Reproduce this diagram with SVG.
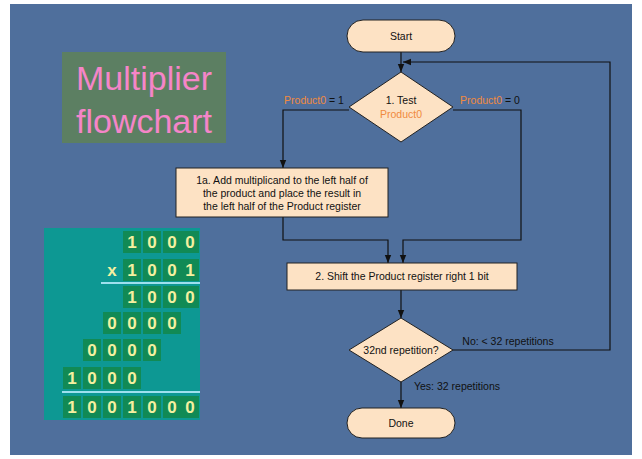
<svg xmlns="http://www.w3.org/2000/svg" width="642" height="459" viewBox="0 0 642 459">
<defs>
<marker id="ar" viewBox="0 0 10 10" refX="10" refY="5" markerWidth="7" markerHeight="7" orient="auto"><path d="M0,1 L10,5 L0,9 z" fill="#111"/></marker>
<style>
.n{fill:#fde2c4;stroke:#222;stroke-width:1}
.t{font-family:"Liberation Sans",Arial,sans-serif;font-size:10.5px;fill:#111;text-anchor:middle}
.o{fill:#f08a40}
.c{stroke:#111;stroke-width:1.2;fill:none}
.cell{fill:#118a55}
.d{font-family:"Liberation Sans",Arial,sans-serif;font-size:17px;font-weight:bold;fill:#f4f0a0;text-anchor:middle}
.ln{stroke:#9ee0ee;stroke-width:2}
</style>
</defs>
<rect width="642" height="459" fill="#fff"/>
<rect x="10" y="4" width="622" height="451" fill="#4f6f9c"/>
<g id="title"><rect x="62" y="52" width="164" height="91" fill="#5c7f62"/>
<text x="144" y="90" font-family="Liberation Sans,Arial,sans-serif" font-size="34" fill="#f585c8" text-anchor="middle">Multiplier</text>
<text x="144" y="133" font-family="Liberation Sans,Arial,sans-serif" font-size="34" fill="#f585c8" text-anchor="middle">flowchart</text></g>
<g id="mult">
<rect x="44" y="228" width="156" height="192" fill="#0d9893"/>
<g>
<rect class="cell" x="123" y="231" width="18" height="22"/><rect class="cell" x="143" y="231" width="18" height="22"/><rect class="cell" x="163" y="231" width="18" height="22"/><rect class="cell" x="181" y="231" width="18" height="22"/>
<rect class="cell" x="123" y="259" width="18" height="22"/><rect class="cell" x="143" y="259" width="18" height="22"/><rect class="cell" x="163" y="259" width="18" height="22"/><rect class="cell" x="181" y="259" width="18" height="22"/>
<rect class="cell" x="123" y="286" width="18" height="22"/><rect class="cell" x="143" y="286" width="18" height="22"/><rect class="cell" x="163" y="286" width="18" height="22"/><rect class="cell" x="181" y="286" width="18" height="22"/>
<rect class="cell" x="103" y="312" width="18" height="22"/><rect class="cell" x="123" y="312" width="18" height="22"/><rect class="cell" x="143" y="312" width="18" height="22"/><rect class="cell" x="163" y="312" width="18" height="22"/>
<rect class="cell" x="83" y="339" width="18" height="22"/><rect class="cell" x="103" y="339" width="18" height="22"/><rect class="cell" x="123" y="339" width="18" height="22"/><rect class="cell" x="143" y="339" width="18" height="22"/>
<rect class="cell" x="63" y="367" width="18" height="22"/><rect class="cell" x="83" y="367" width="18" height="22"/><rect class="cell" x="103" y="367" width="18" height="22"/><rect class="cell" x="123" y="367" width="18" height="22"/>
<rect class="cell" x="63" y="396" width="18" height="22"/><rect class="cell" x="83" y="396" width="18" height="22"/><rect class="cell" x="103" y="396" width="18" height="22"/><rect class="cell" x="123" y="396" width="18" height="22"/><rect class="cell" x="143" y="396" width="18" height="22"/><rect class="cell" x="163" y="396" width="18" height="22"/><rect class="cell" x="181" y="396" width="18" height="22"/>
</g>
<text class="d" y="248"><tspan x="132">1</tspan><tspan x="152">0</tspan><tspan x="172">0</tspan><tspan x="190">0</tspan></text>
<text class="d" y="276"><tspan x="112">x</tspan><tspan x="132">1</tspan><tspan x="152">0</tspan><tspan x="172">0</tspan><tspan x="190">1</tspan></text>
<line class="ln" x1="101" y1="283" x2="200" y2="283"/>
<text class="d" y="303"><tspan x="132">1</tspan><tspan x="152">0</tspan><tspan x="172">0</tspan><tspan x="190">0</tspan></text>
<text class="d" y="329"><tspan x="112">0</tspan><tspan x="132">0</tspan><tspan x="152">0</tspan><tspan x="172">0</tspan></text>
<text class="d" y="356"><tspan x="92">0</tspan><tspan x="112">0</tspan><tspan x="132">0</tspan><tspan x="152">0</tspan></text>
<text class="d" y="384"><tspan x="72">1</tspan><tspan x="92">0</tspan><tspan x="112">0</tspan><tspan x="132">0</tspan></text>
<line class="ln" x1="62" y1="392" x2="200" y2="392"/>
<text class="d" y="413"><tspan x="72">1</tspan><tspan x="92">0</tspan><tspan x="112">0</tspan><tspan x="132">1</tspan><tspan x="152">0</tspan><tspan x="172">0</tspan><tspan x="190">0</tspan></text>
</g>
<g id="connectors">
<line class="c" x1="401" y1="52" x2="401" y2="72" marker-end="url(#ar)"/>
<polyline class="c" points="349,110 283,110 283,168" marker-end="url(#ar)"/>
<polyline class="c" points="453,110 521,110 521,240 403,240 403,263" marker-end="url(#ar)"/>
<polyline class="c" points="283,217 283,240 388,240 388,263" marker-end="url(#ar)"/>
<line class="c" x1="401" y1="290" x2="401" y2="318" marker-end="url(#ar)"/>
<polyline class="c" points="452,350 610,350 610,62 403,62" marker-end="url(#ar)"/>
<line class="c" x1="401" y1="382" x2="401" y2="408" marker-end="url(#ar)"/>
<text class="t" x="314" y="104"><tspan class="o">Product0</tspan> = 1</text>
<text class="t" x="490" y="104"><tspan class="o">Product0</tspan> = 0</text>
<text class="t" x="508" y="345">No:  &lt; 32 repetitions</text>
<text class="t" x="457" y="390">Yes:  32 repetitions</text>
</g>
<g id="start"><rect class="n" x="347" y="20" width="108" height="32" rx="16"/><text class="t" x="401" y="40">Start</text></g>
<g id="test"><polygon class="n" points="401,72 453,107 401,142 349,107"/><text class="t" x="401" y="104">1. Test</text><text class="t o" x="401" y="118">Product0</text></g>
<g id="add"><rect class="n" x="176" y="168" width="212" height="49"/>
<text class="t" x="282" y="184">1a. Add multiplicand to the left half of</text>
<text class="t" x="282" y="197">the product and place the result in</text>
<text class="t" x="282" y="210">the left half of the Product register</text></g>
<g id="shift"><rect class="n" x="287" y="263" width="230" height="27"/><text class="t" x="402" y="280">2. Shift the Product register right 1 bit</text></g>
<g id="rep"><polygon class="n" points="401,318 453,350 401,382 349,350"/><text class="t" x="401" y="354">32nd repetition?</text></g>
<g id="done"><rect class="n" x="347" y="408" width="108" height="30" rx="15"/><text class="t" x="401" y="427">Done</text></g>
</svg>
